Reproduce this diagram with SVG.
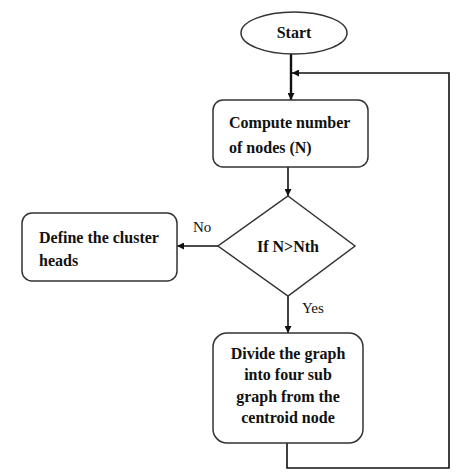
<svg xmlns="http://www.w3.org/2000/svg" width="474" height="474" viewBox="0 0 474 474">
<style>
.shape{fill:#fff;stroke:#333;stroke-width:1.5}
.t{font-family:"Liberation Serif","Times New Roman",serif;font-weight:bold;font-size:16px;fill:#111}
.lbl{font-family:"Liberation Serif","Times New Roman",serif;font-size:15px;fill:#111}
.c{fill:none;stroke:#111;stroke-width:1.6}
</style>
<defs>
<marker id="ah" viewBox="0 0 10 10" refX="10" refY="5" markerWidth="7" markerHeight="7" markerUnits="userSpaceOnUse" orient="auto"><path d="M0,0 L10,5 L0,10 z" fill="#111"/></marker>
</defs>
<rect width="474" height="474" fill="#fff"/>
<g id="connectors">
<line class="c" x1="291" y1="54" x2="291" y2="100" marker-end="url(#ah)" style="stroke-width:2.4"/>
<polyline class="c" points="287,443 287,468 449,468 449,73 292,73" marker-end="url(#ah)"/>
<line class="c" x1="288" y1="167" x2="288" y2="196" marker-end="url(#ah)"/>
<line class="c" x1="218" y1="246" x2="177" y2="246" marker-end="url(#ah)"/>
<line class="c" x1="288" y1="296" x2="288" y2="333" marker-end="url(#ah)"/>
<text class="lbl" x="193" y="232">No</text>
<text class="lbl" x="302" y="313">Yes</text>
</g>
<g id="start">
<ellipse class="shape" cx="294" cy="33" rx="53" ry="21"/>
<text class="t" x="294" y="38" text-anchor="middle">Start</text>
</g>
<g id="compute">
<rect class="shape" x="213" y="100" width="155" height="67" rx="10"/>
<text class="t" x="229" y="128">Compute number</text>
<text class="t" x="229" y="153">of nodes (N)</text>
</g>
<g id="decision">
<polygon class="shape" points="288,196 355,246 288,296 218,246"/>
<text class="t" x="288" y="252" text-anchor="middle">If N&gt;Nth</text>
</g>
<g id="define">
<rect class="shape" x="22" y="213" width="155" height="68" rx="10"/>
<text class="t" x="39" y="243">Define the cluster</text>
<text class="t" x="39" y="266">heads</text>
</g>
<g id="divide">
<rect class="shape" x="213" y="333" width="150" height="110" rx="14"/>
<text class="t" x="288" y="359" text-anchor="middle">Divide the graph</text>
<text class="t" x="288" y="380" text-anchor="middle">into four sub</text>
<text class="t" x="288" y="402" text-anchor="middle">graph from the</text>
<text class="t" x="288" y="423" text-anchor="middle">centroid node</text>
</g>
</svg>
